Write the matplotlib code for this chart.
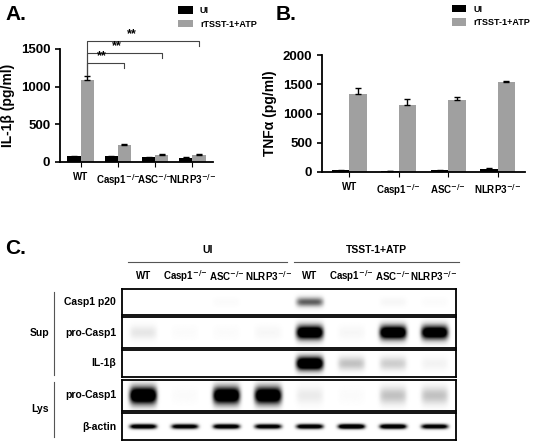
import numpy as np
import matplotlib.pyplot as plt

ko = "$^{{-}/{-}}$"
groups = ["WT", "Casp1" + ko, "ASC" + ko, "NLRP3" + ko]
il1b_ui = [75, 75, 65, 55]
il1b_ui_err = [8, 6, 6, 5]
il1b_atp = [1085, 230, 95, 90]
il1b_atp_err = [60, 15, 8, 15]
tnf_ui = [30, 20, 30, 55]
tnf_ui_err = [5, 4, 8, 10]
tnf_atp = [1340, 1140, 1230, 1530]
tnf_atp_err = [100, 100, 50, 30]

blot_rows = ["Casp1 p20", "pro-Casp1", "IL-1\u03b2", "pro-Casp1", "\u03b2-actin"]
blot_intensity = [
    [0, 0, 0.01, 0, 0.4, 0, 0.02, 0.01],
    [0.06, 0.01, 0.01, 0.02, 0.95, 0.02, 0.95, 0.9],
    [0, 0, 0, 0, 1.0, 0.15, 0.12, 0.03],
    [1.0, 0.01, 0.95, 0.95, 0.05, 0.01, 0.15, 0.15],
    [0.85, 0.8, 0.85, 0.8, 0.85, 0.95, 0.9, 0.8],
]
band_height = [0.35, 0.45, 0.5, 0.55, 0.18]

W, H = 550, 447
plt.rcParams["font.family"] = ["Liberation Sans", "DejaVu Sans"]
plt.rcParams["mathtext.default"] = "bf"
fig = plt.figure(figsize=(5.5, 4.47), dpi=100)


def px_axes(x0, y0, x1, y1):
    return fig.add_axes([x0 / W, 1 - y1 / H, (x1 - x0) / W, (y1 - y0) / H])


def bar_panel(ax, ui, ui_err, atp, atp_err, ylim, yticks, ylabel):
    x = np.arange(len(groups))
    w = 0.35
    ax.bar(x - w / 2, ui, w, color="black", yerr=ui_err, capsize=2,
           error_kw=dict(lw=1, capthick=1), label="UI")
    ax.bar(x + w / 2, atp, w, color="#a0a0a0", yerr=[np.zeros(4), atp_err],
           capsize=2, error_kw=dict(lw=1, capthick=1), label="rTSST-1+ATP")
    ax.set_ylim(*ylim)
    ax.set_yticks(yticks)
    ax.set_xticks(x)
    ax.set_xticklabels(groups, fontsize=7, fontweight="bold")
    ax.set_xlim(-0.55, 3.55)
    ax.tick_params(axis="y", labelsize=9.5, width=1.2)
    for lab in ax.get_yticklabels():
        lab.set_fontweight("bold")
    ax.set_ylabel(ylabel, fontsize=10, fontweight="bold")
    for s in ["top", "right"]:
        ax.spines[s].set_visible(False)
    for s in ["left", "bottom"]:
        ax.spines[s].set_linewidth(1.3)
    return x, w


axA = px_axes(60, 49, 213, 162)
x, w = bar_panel(axA, il1b_ui, il1b_ui_err, il1b_atp, il1b_atp_err,
                 (0, 1500), [0, 500, 1000, 1500], "IL-1\u03b2 (pg/ml)")
# significance brackets
for i, yb in zip([1, 2, 3], [1314, 1447, 1606]):
    x0, x1 = x[0] + w / 2, x[i] + w / 2
    axA.plot([x0, x0, x1, x1], [1150, yb, yb, yb - 70], color="#444",
             lw=0.8, clip_on=False)
    axA.text((x0 + x1) / 2 - 0.1 * i, yb + 5, "**", ha="center",
             va="bottom", fontsize=9, fontweight="bold", clip_on=False)
axA.legend(loc="upper left", bbox_to_anchor=(0.72, 1.45), frameon=False,
           prop=dict(weight="bold", size=6.5), handlelength=1.6, handleheight=0.9)

axB = px_axes(322, 55, 525, 172)
bar_panel(axB, tnf_ui, tnf_ui_err, tnf_atp, tnf_atp_err,
          (0, 2000), [0, 500, 1000, 1500, 2000], "TNF\u03b1 (pg/ml)")
axB.legend(loc="upper left", bbox_to_anchor=(0.6, 1.5), frameon=False,
           prop=dict(weight="bold", size=6.5), handlelength=1.6, handleheight=0.9)

fig.text(5 / W, 1 - 14 / H, "A.", fontsize=15, fontweight="bold", va="center")
fig.text(276 / W, 1 - 14 / H, "B.", fontsize=15, fontweight="bold", va="center")
fig.text(5 / W, 1 - 248 / H, "C.", fontsize=15, fontweight="bold", va="center")

# panel C: blot
bx0, bx1 = 122, 456
row_edges = [(289, 315), (317, 348), (350, 377), (380, 411), (413, 440)]
lane_x = np.linspace(bx0 + 22, bx1 - 22, 8)
for lx, lab in zip(lane_x, groups + groups):
    fig.text(lx / W, 1 - 276 / H, lab, ha="center", va="center",
             fontsize=7, fontweight="bold")
for (a, b), name in [((128, 287), "UI"), ((294, 459), "TSST-1+ATP")]:
    fig.add_artist(plt.Line2D([a / W, b / W], [1 - 262 / H] * 2, color="#555", lw=0.8))
    fig.text((a + b) / 2 / W, 1 - 250 / H, name, ha="center", va="center",
             fontsize=7.5, fontweight="bold")

nx, ny = 400, 40
xx = np.linspace(0, 8, nx)
yy = np.linspace(-1, 1, ny)
for r, ((y0, y1), name) in enumerate(zip(row_edges, blot_rows)):
    ax = px_axes(bx0, y0, bx1, y1)
    img = np.zeros((ny, nx))
    for k, val in enumerate(blot_intensity[r]):
        prof_x = np.exp(-((xx - (k + 0.5)) / 0.32) ** 6)
        prof_y = np.exp(-(yy / band_height[r]) ** 2)
        img += val * 1.6 * np.outer(prof_y, prof_x)
    ax.imshow(np.clip(img, 0, 1), cmap="gray_r", vmin=0, vmax=1, aspect="auto",
              interpolation="bilinear")
    ax.set_xticks([])
    ax.set_yticks([])
    for s in ax.spines.values():
        s.set_linewidth(1.3)
    fig.text((bx0 - 6) / W, 1 - (y0 + y1) / 2 / H, name, ha="right",
             va="center", fontsize=7.5, fontweight="bold")

for (a, b), name in [((292, 375), "Sup"), ((382, 437), "Lys")]:
    fig.add_artist(plt.Line2D([54 / W] * 2, [1 - a / H, 1 - b / H], color="#555", lw=0.8))
    fig.text(40 / W, 1 - (a + b) / 2 / H, name, ha="center", va="center",
             fontsize=7.5, fontweight="bold")

fig.savefig("out.png", dpi=100)
